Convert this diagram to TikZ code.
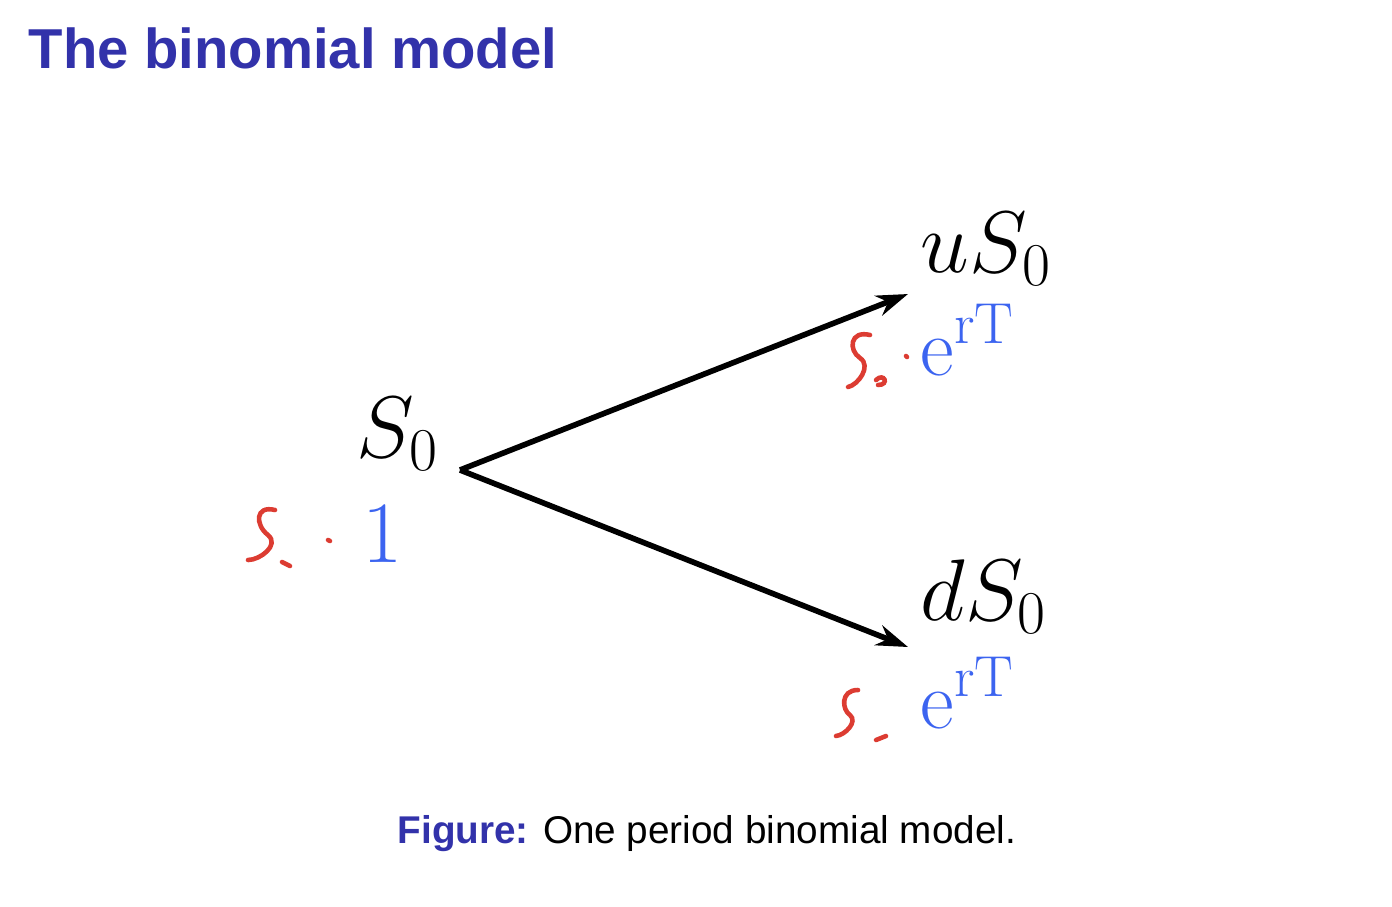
\documentclass[tikz,border=0pt]{standalone}
\usepackage{fontspec}
\setsansfont{Liberation Sans}
\usetikzlibrary{arrows.meta}
\definecolor{ttl}{RGB}{50,50,170}
\definecolor{bl}{RGB}{60,100,240}
\definecolor{rd}{RGB}{220,60,50}
\begin{document}
\begin{tikzpicture}[x=0.01cm,y=-0.01cm,
  mathlbl/.style={inner sep=0,anchor=base west,font=\fontsize{23.5}{27}\selectfont},
  bluelbl/.style={inner sep=0,anchor=base west,text=bl,font=\fontsize{23.5}{27}\selectfont},
  edge/.style={line width=1.6pt,-{Stealth[length=9pt,width=6pt]}},
  scrib/.style={rd,line width=1.3pt,line cap=round}]
\useasboundingbox (0,0) rectangle (1392,906);
\node[inner sep=0,anchor=base west,text=ttl,font=\sffamily\bfseries\fontsize{16}{19}\selectfont] (title) at (28,68) {The binomial model};
\node[mathlbl] (s0) at (356,457) {$S_0$};
\coordinate (root) at (460,470);
\node[mathlbl] (u) at (920,272) {$uS_0$};
\node[mathlbl] (d) at (920,620) {$dS_0$};
\coordinate (ue) at (908,294);
\coordinate (de) at (908,647);
\draw[edge] (root) -- (ue);
\draw[edge] (root) -- (de);
\node[bluelbl] (one) at (362,562) {$1$};
\node[bluelbl] (ert1) at (920,375) {$\mathrm{e}^{\mathrm{rT}}$};
\node[bluelbl] (ert2) at (920,728) {$\mathrm{e}^{\mathrm{rT}}$};
\node[inner sep=0,anchor=base west,font=\sffamily\fontsize{11}{13}\selectfont] (cap) at (397,843) {\textcolor{ttl}{\bfseries Figure:} One period binomial model.};
% scribbles
\draw[scrib] (275,510) .. controls (255,505) and (255,525) .. (268,535) .. controls (280,545) and (260,560) .. (248,560);
\draw[scrib] (282,562) -- (290,566);
\draw[scrib] (328,540) -- (330,541);
\draw[scrib] (870,335) .. controls (850,330) and (848,350) .. (860,358) .. controls (872,366) and (858,385) .. (848,387);
\draw[scrib] (876,380) .. controls (884,372) and (890,385) .. (878,385);
\draw[scrib] (906,356) -- (907,357);
\draw[scrib] (858,690) .. controls (840,690) and (842,710) .. (850,715) .. controls (858,722) and (845,735) .. (836,736);
\draw[scrib] (876,740) -- (886,736);
\end{tikzpicture}
\end{document}
